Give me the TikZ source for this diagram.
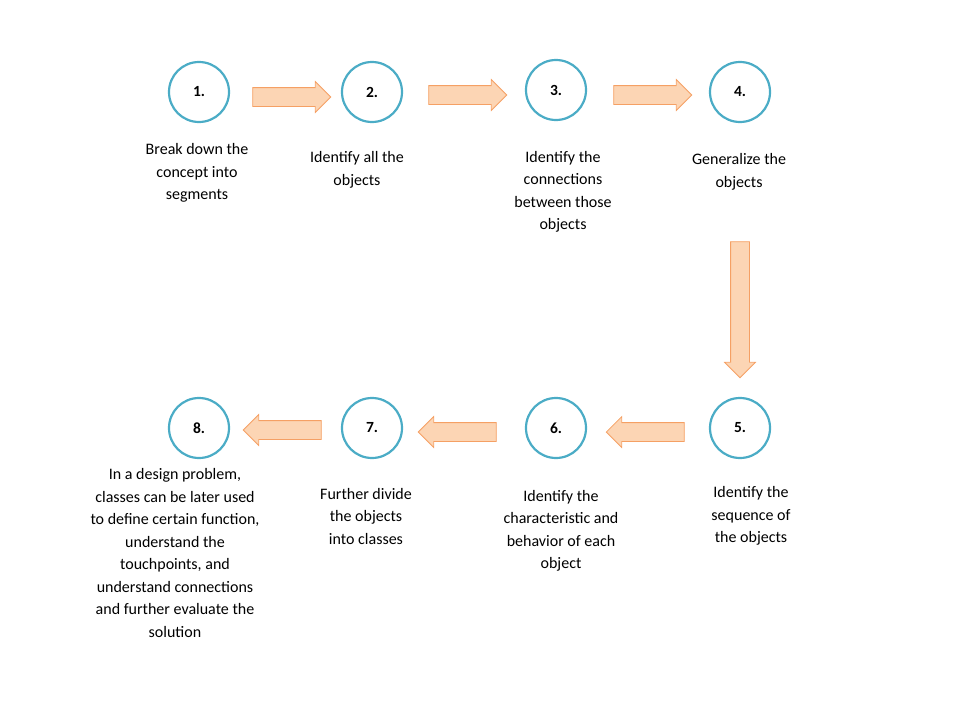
\documentclass[tikz,border=0pt]{standalone}
\usepackage{fontspec}
\setmainfont{Carlito}
\usetikzlibrary{shapes.arrows}
\definecolor{ring}{RGB}{75,172,198}
\definecolor{peach}{RGB}{252,213,180}
\definecolor{peachline}{RGB}{245,160,100}
\begin{document}
\begin{tikzpicture}[x=1pt, y=-1pt,
    stage/.style = {draw=ring, line width=2.2pt, circle, minimum size=60pt, font=\bfseries\fontsize{15.5}{18}\selectfont},
    desc/.style = {align=center, font=\fontsize{16}{22.5}\selectfont},
    flow/.style = {single arrow, draw=peachline, fill=peach, line width=0.8pt, minimum height=78pt, minimum width=30pt, single arrow head extend=6pt, inner sep=9pt}]
    \useasboundingbox (0,0) rectangle (960,720);

    \node[stage] (1) at (199,92) {1.};
    \node[stage] (2) at (372,92) {2.};
    \node[stage] (3) at (556,90) {3.};
    \node[stage] (4) at (740,92) {4.};
    \node[stage] (5) at (740,428) {5.};
    \node[stage] (6) at (556,428) {6.};
    \node[stage] (7) at (372,428) {7.};
    \node[stage] (8) at (199,428) {8.};

    \node[flow] (a12) at (287,97) {};
    \node[flow] (a23) at (463,95) {};
    \node[flow] (a34) at (648,95) {};
    \node[flow, minimum height=136pt, shape border rotate=270] (a45) at (740,305) {};
    \node[flow, shape border rotate=180] (a56) at (650,432) {};
    \node[flow, shape border rotate=180] (a67) at (462,432) {};
    \node[flow, shape border rotate=180] (a78) at (287,430) {};

    \node[desc] (t1) at (197,173) {Break down the\\concept into\\segments};
    \node[desc] (t2) at (357,170) {Identify all the\\objects};
    \node[desc] (t3) at (563,192) {Identify the\\connections\\between those\\objects};
    \node[desc] (t4) at (739,172) {Generalize the\\objects};
    \node[desc] (t5) at (751,516) {Identify the\\sequence of\\the objects};
    \node[desc] (t6) at (561,531) {Identify the\\characteristic and\\behavior of each\\object};
    \node[desc] (t7) at (366,516) {Further divide\\the objects\\into classes};
    \node[desc] (t8) at (175,553) {In a design problem,\\classes can be later used\\to define certain function,\\understand the\\touchpoints, and\\understand connections\\and further evaluate the\\solution};
\end{tikzpicture}
\end{document}
